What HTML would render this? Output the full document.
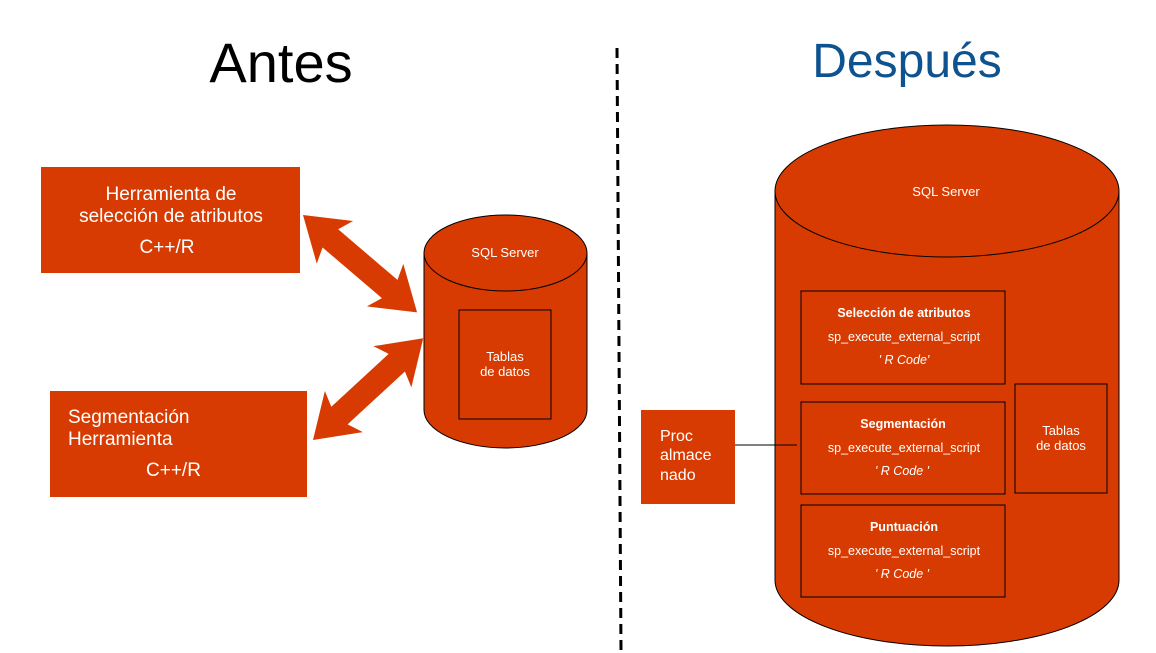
<!DOCTYPE html>
<html><head><meta charset="utf-8"><style>
body{margin:0;background:#fff;}
svg{display:block;font-family:"Liberation Sans",sans-serif;}
</style></head><body>
<svg width="1156" height="653" viewBox="0 0 1156 653" xmlns="http://www.w3.org/2000/svg">
<defs>
<g id="darr">
<polygon points="0,0 42,-28 36,-12 114,-12 108,-28 150,0 108,28 114,12 36,12 42,28" fill="#D83B01"/>
</g>
</defs>
<text x="281" y="82" font-size="56" text-anchor="middle" fill="#000" font-weight="300">Antes</text>
<text x="907" y="77" font-size="48" text-anchor="middle" fill="#0E5390">Después</text>
<line x1="617" y1="48" x2="621" y2="650" stroke="#000" stroke-width="3" stroke-dasharray="10,6"/>
<rect x="41" y="167" width="259" height="106" fill="#D83B01"/>
<text fill="#fff" font-size="19" text-anchor="middle"><tspan x="171" y="200">Herramienta de</tspan><tspan x="171" y="222">selección de atributos</tspan><tspan x="167" y="253">C++/R</tspan></text>
<rect x="50" y="391" width="257" height="106" fill="#D83B01"/>
<text fill="#fff" font-size="19"><tspan x="68" y="423">Segmentación</tspan><tspan x="68" y="445">Herramienta</tspan><tspan x="146" y="476">C++/R</tspan></text>
<g transform="translate(303,215) rotate(40.5)"><use href="#darr"/></g>
<g transform="translate(313,440) rotate(-42.7)"><use href="#darr"/></g>
<path d="M424,253 L424,410 A81.5,38 0 0 0 587,410 L587,253 Z" fill="#D83B01" stroke="#000" stroke-width="1"/>
<ellipse cx="505.5" cy="253" rx="81.5" ry="38" fill="#D83B01" stroke="#000" stroke-width="1"/>
<text x="505" y="257" font-size="13" fill="#fff" text-anchor="middle">SQL Server</text>
<rect x="459" y="310" width="92" height="109" fill="none" stroke="#000"/>
<text fill="#fff" font-size="13" text-anchor="middle"><tspan x="505" y="361">Tablas</tspan><tspan x="505" y="376">de datos</tspan></text>
<path d="M775,191 L775,580 A172,66 0 0 0 1119,580 L1119,191 Z" fill="#D83B01" stroke="#000" stroke-width="1"/>
<ellipse cx="947" cy="191" rx="172" ry="66" fill="#D83B01" stroke="#000" stroke-width="1"/>
<text x="946" y="196" font-size="13" fill="#fff" text-anchor="middle">SQL Server</text>
<rect x="641" y="410" width="94" height="94" fill="#D83B01"/>
<text fill="#fff" font-size="16"><tspan x="660" y="441">Proc</tspan><tspan x="660" y="460">almace</tspan><tspan x="660" y="480">nado</tspan></text>
<line x1="735" y1="445" x2="797" y2="445" stroke="#000"/>
<g fill="none" stroke="#000" stroke-width="1">
<rect x="801" y="291" width="204" height="93"/>
<rect x="801" y="402" width="204" height="92"/>
<rect x="801" y="505" width="204" height="92"/>
<rect x="1015" y="384" width="92" height="109"/>
</g>
<g fill="#fff" font-size="12.5" text-anchor="middle">
<text x="904" y="317" font-weight="bold">Selección de atributos</text>
<text x="904" y="341">sp_execute_external_script</text>
<text x="904" y="364" font-style="italic">' R Code'</text>
<text x="903" y="428" font-weight="bold">Segmentación</text>
<text x="904" y="452">sp_execute_external_script</text>
<text x="902" y="475" font-style="italic">' R Code '</text>
<text x="904" y="531" font-weight="bold">Puntuación</text>
<text x="904" y="555">sp_execute_external_script</text>
<text x="902" y="578" font-style="italic">' R Code '</text>
<text x="1061" y="435" font-size="13">Tablas</text>
<text x="1061" y="450" font-size="13">de datos</text>
</g>
</svg>
</body></html>
